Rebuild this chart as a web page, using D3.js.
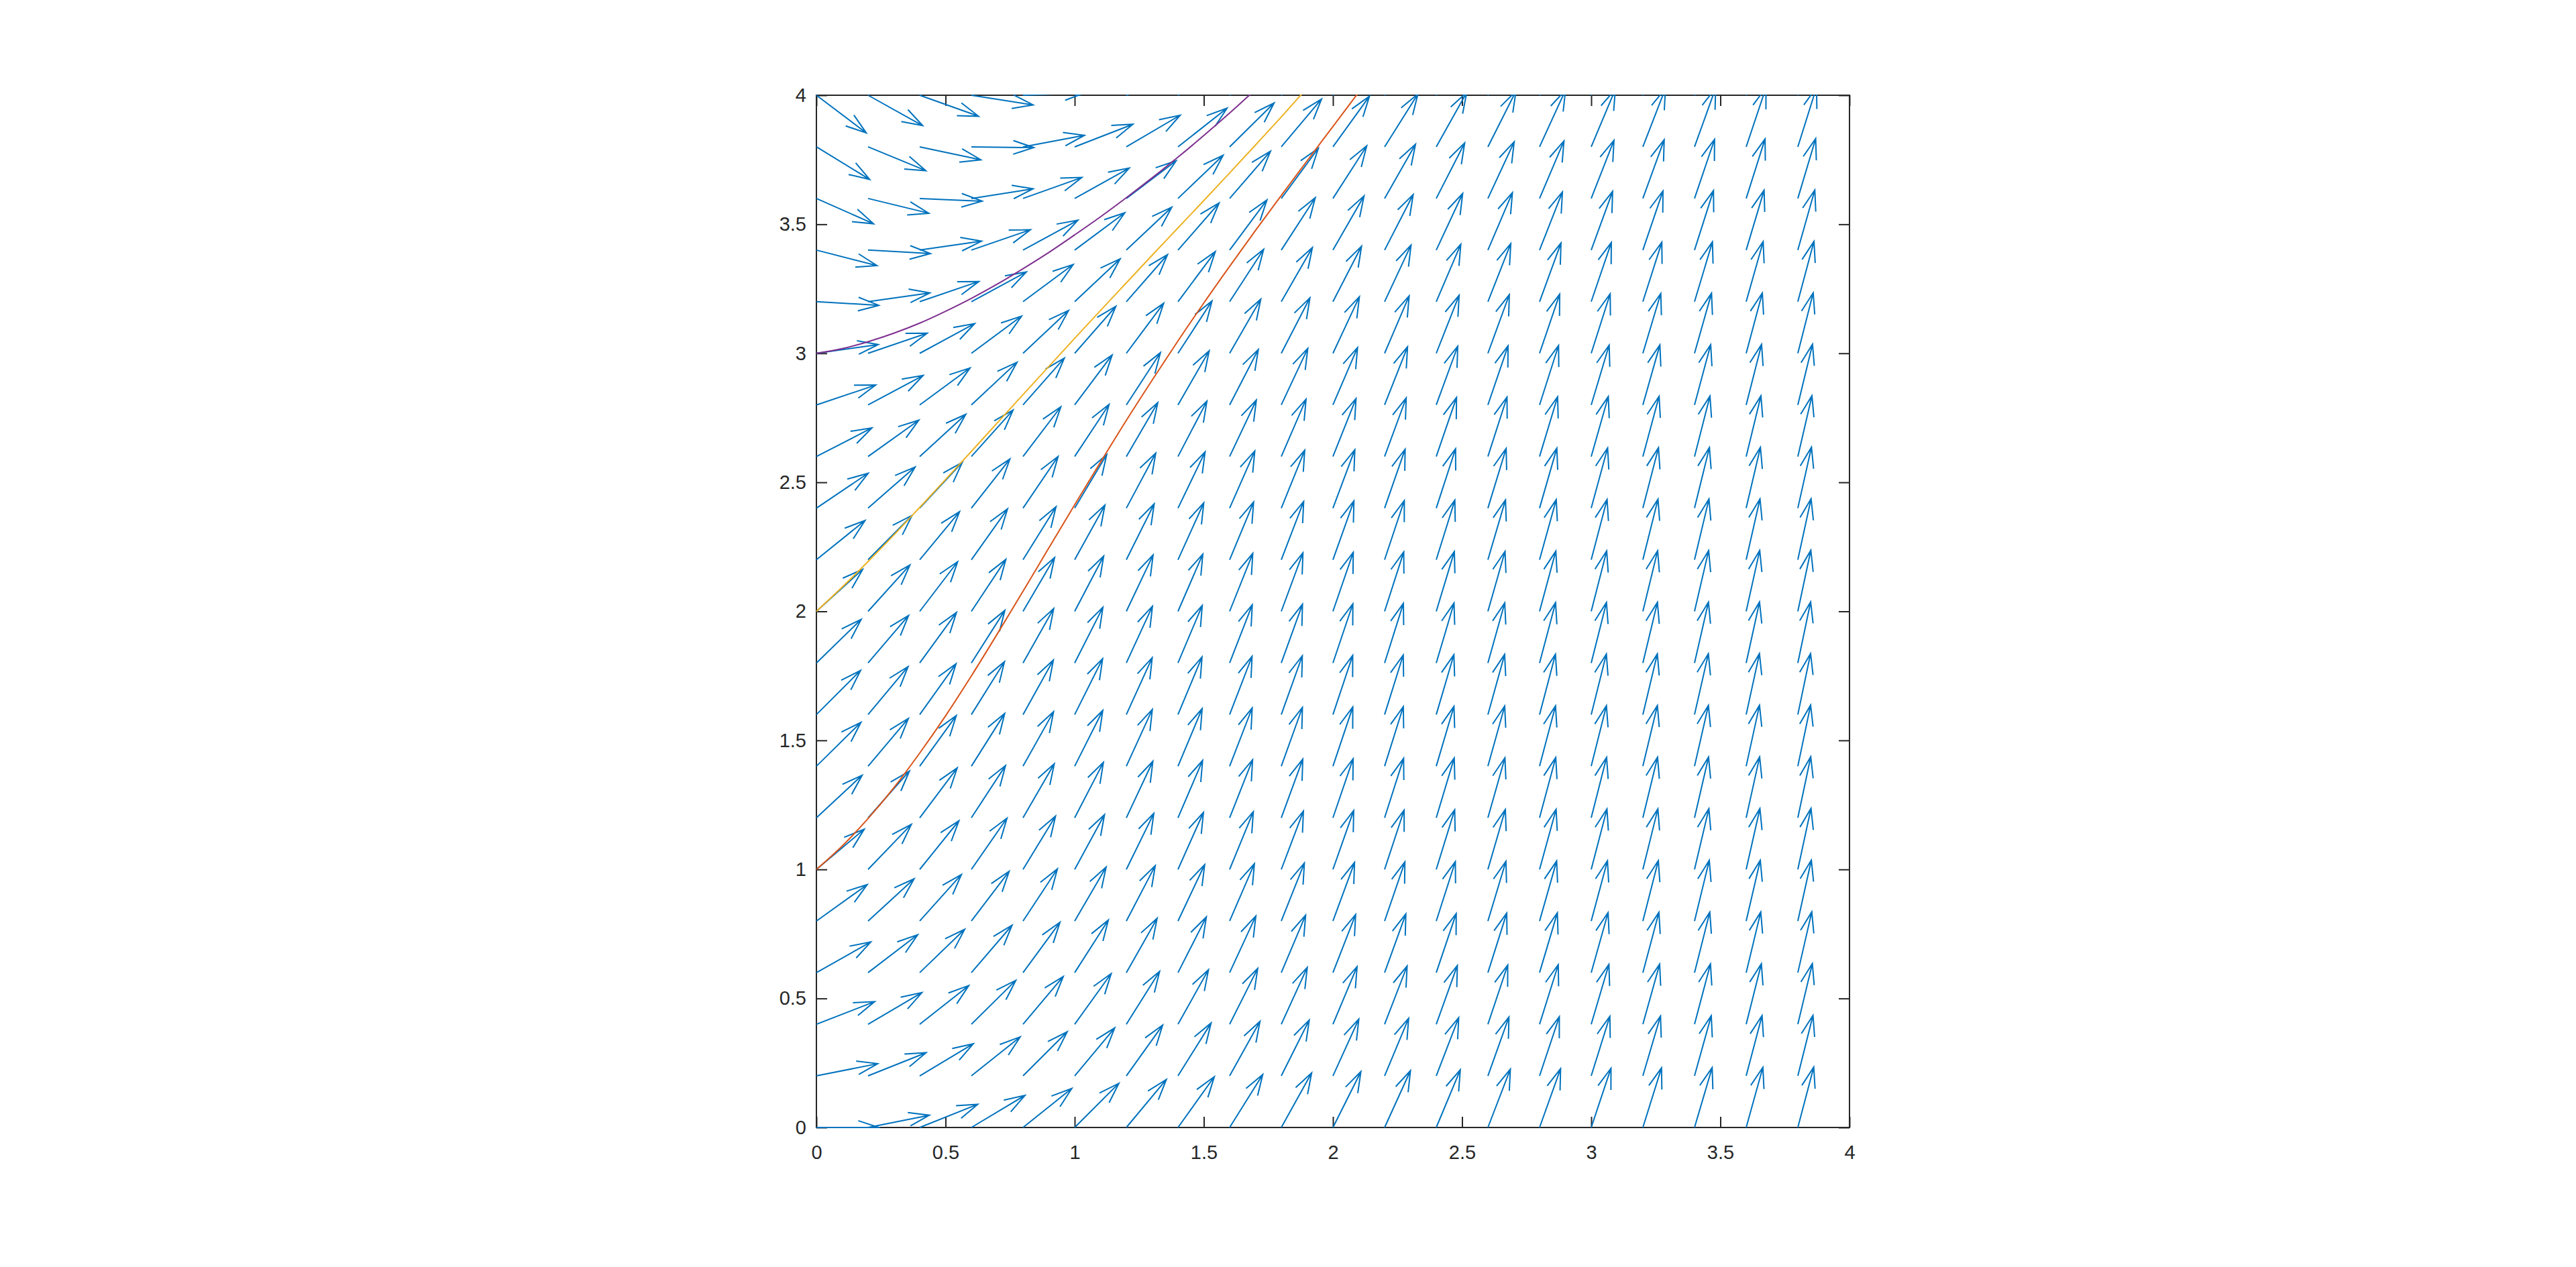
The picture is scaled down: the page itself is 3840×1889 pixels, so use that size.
<!DOCTYPE html>
<html>
<head>
<meta charset="utf-8">
<style>
  body { margin: 0; background: #fff; }
  svg { display: block; }
</style>
</head>
<body>
  <svg id="field"></svg>
</body>
<script src="https://cdn.jsdelivr.net/npm/d3@7"></script>
<script>
/* global d3 */

//---------data---------//
// quiver grid (arrows only go up to x = 3.8)
const xGrid = [0, 0.2, 0.4, 0.6, 0.8, 1, 1.2, 1.4, 1.6, 1.8, 2, 2.2, 2.4, 2.6, 2.8, 3, 3.2, 3.4, 3.6, 3.8]
const yGrid = [0, 0.2, 0.4, 0.6, 0.8, 1, 1.2, 1.4, 1.6, 1.8, 2, 2.2, 2.4, 2.6, 2.8, 3, 3.2, 3.4, 3.6, 3.8, 4]
// slope of the arrows along the left edge (x = 0), one per row
const rowSlope = [0, 0.199, 0.389, 0.565, 0.717, 0.841, 0.932, 0.985, 1.0, 0.974, 0.909, 0.808, 0.675, 0.516, 0.335, 0.141, -0.058, -0.256, -0.443, -0.612, -0.757]
// extra slope gained moving right, one per column (bottom row reads slope = x)
const colSlope = xGrid.slice()

// solution curves y(0) = 1, 2, 3
const curveX = [0, 0.1, 0.2, 0.3, 0.4, 0.5, 0.6, 0.7, 0.8, 0.9, 1, 1.1, 1.2, 1.3, 1.4, 1.5, 1.6, 1.7, 1.8, 1.9, 2, 2.1]
const yRed = [1, 1.091, 1.197, 1.317, 1.451, 1.595, 1.750, 1.912, 2.078, 2.246, 2.413, 2.578, 2.740, 2.896, 3.048, 3.195, 3.337, 3.476, 3.612, 3.746, 3.879, 4.012]
const yYellow = [2, 2.094, 2.193, 2.296, 2.403, 2.511, 2.620, 2.730, 2.840, 2.949, 3.058, 3.166, 3.273, 3.380, 3.486, 3.592, 3.699, 3.807, 3.916, 4.028]
const yPurple = [3, 3.018, 3.045, 3.078, 3.117, 3.163, 3.213, 3.268, 3.328, 3.391, 3.459, 3.529, 3.603, 3.680, 3.760, 3.844, 3.931, 4.022]

const tickVals = [0, 0.5, 1, 1.5, 2, 2.5, 3, 3.5, 4]
const tickLabels = ['0', '0.5', '1', '1.5', '2', '2.5', '3', '3.5', '4']

//---------layout---------//
const W = 3840
const H = 1889
const margins = { top: 142, right: 1083, bottom: 208, left: 1217 }
const plotW = W - margins.left - margins.right
const plotH = H - margins.top - margins.bottom

const axisColor = '#262626'
const blue = '#0072BD'
const lineColors = ['#D95319', '#EDB120', '#7E2F8E']

const svg = d3.select('#field')
  .attr('width', W)
  .attr('height', H)
  .style('font-family', '"Liberation Sans", Arial, Helvetica, sans-serif')

const x = d3.scaleLinear().domain([0, 4]).range([margins.left, margins.left + plotW])
const y = d3.scaleLinear().domain([0, 4]).range([margins.top + plotH, margins.top])

svg.append('defs').append('clipPath').attr('id', 'plotClip')
  .append('rect')
  .attr('x', margins.left - 1)
  .attr('y', margins.top - 1)
  .attr('width', plotW + 2)
  .attr('height', plotH + 2)

//---------axes (box with ticks on all sides, ticks inward)---------//
const tickLen = 16
const fmt = (d) => tickLabels[tickVals.indexOf(d)]

function styleAxis (g) {
  g.select('.domain').remove()
  g.selectAll('.tick line').attr('stroke', axisColor).attr('stroke-width', 2)
  g.selectAll('.tick text')
    .attr('fill', axisColor)
    .style('font-size', '29px')
}

svg.append('g')
  .attr('transform', `translate(0,${margins.top + plotH})`)
  .call(d3.axisBottom(x).tickValues(tickVals).tickFormat(fmt).tickSizeInner(-tickLen).tickSizeOuter(0).tickPadding(26))
  .call(styleAxis)

svg.append('g')
  .attr('transform', `translate(0,${margins.top})`)
  .call(d3.axisTop(x).tickValues(tickVals).tickFormat('').tickSizeInner(-tickLen).tickSizeOuter(0))
  .call(styleAxis)

svg.append('g')
  .attr('transform', `translate(${margins.left},0)`)
  .call(d3.axisLeft(y).tickValues(tickVals).tickFormat(fmt).tickSizeInner(-tickLen).tickSizeOuter(0).tickPadding(15))
  .call(styleAxis)

svg.append('g')
  .attr('transform', `translate(${margins.left + plotW},0)`)
  .call(d3.axisRight(y).tickValues(tickVals).tickFormat('').tickSizeInner(-tickLen).tickSizeOuter(0))
  .call(styleAxis)

svg.append('rect')
  .attr('x', margins.left)
  .attr('y', margins.top)
  .attr('width', plotW)
  .attr('height', plotH)
  .attr('fill', 'none')
  .attr('stroke', axisColor)
  .attr('stroke-width', 2)

//---------quiver---------//
// unit direction (1, slope) scaled like matlab's autoscale, head alpha/beta = 0.33
const arrowLen = 0.242
const alpha = 0.33
const beta = 0.33

const arrows = []
yGrid.forEach((yv, j) => {
  xGrid.forEach((xv, i) => {
    const s = colSlope[i] + rowSlope[j]
    const n = Math.sqrt(1 + s * s)
    arrows.push({ x0: xv, y0: yv, u: arrowLen / n, v: arrowLen * s / n })
  })
})

function arrowPath (a) {
  const tx = a.x0 + a.u
  const ty = a.y0 + a.v
  const e = 1e-9
  const b1x = tx - alpha * (a.u + beta * (a.v + e))
  const b1y = ty - alpha * (a.v - beta * (a.u + e))
  const b2x = tx - alpha * (a.u - beta * (a.v + e))
  const b2y = ty - alpha * (a.v + beta * (a.u + e))
  return `M${x(a.x0)},${y(a.y0)}L${x(tx)},${y(ty)}` +
    `M${x(b1x)},${y(b1y)}L${x(tx)},${y(ty)}L${x(b2x)},${y(b2y)}`
}

const plot = svg.append('g').attr('clip-path', 'url(#plotClip)')

plot.append('g')
  .selectAll('path')
  .data(arrows)
  .join('path')
  .attr('d', arrowPath)
  .attr('fill', 'none')
  .attr('stroke', blue)
  .attr('stroke-width', 2)
  .attr('stroke-linejoin', 'miter')

//---------solution curves---------//
const series = [yRed, yYellow, yPurple].map((ys) => ys.map((v, i) => [curveX[i], v]))
const line = d3.line()
  .x(d => x(d[0]))
  .y(d => y(d[1]))
  .curve(d3.curveMonotoneX)

plot.append('g')
  .selectAll('path')
  .data(series)
  .join('path')
  .attr('d', line)
  .attr('fill', 'none')
  .attr('stroke', (d, i) => lineColors[i])
  .attr('stroke-width', 2)
</script>
</html>
